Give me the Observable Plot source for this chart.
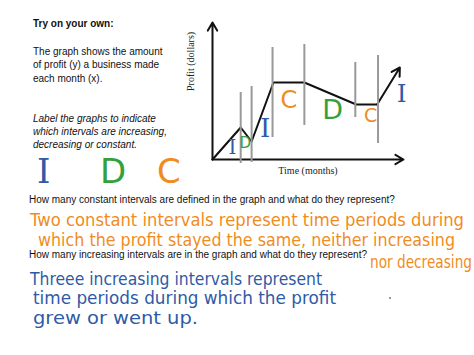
<!DOCTYPE html>
<html>
<head>
<meta charset="utf-8">
<script src="https://cdn.jsdelivr.net/npm/d3@7"></script>
<script src="https://cdn.jsdelivr.net/npm/@observablehq/plot@0.6"></script>
<style>
  html, body { margin: 0; padding: 0; background: #fff; }
  #page { position: relative; width: 474px; height: 355px; overflow: hidden; background: #fff; }
  #chart { position: absolute; left: 0; top: 0; }
  .t { position: absolute; white-space: nowrap; line-height: 1; font-family: "Liberation Sans", Arial, sans-serif; color: #111; }
  .hw { position: absolute; white-space: nowrap; line-height: 1; font-family: "DejaVu Sans", sans-serif; transform-origin: 0 0; }
</style>
</head>
<body>
<div id="page">
  <div id="chart"></div>
</div>
<script>
// ---- data ----
const months = [0, 3.1, 4.3, 6.7, 10.1, 15.8, 18.1, 20.6];
const profit = [0, 32, 18, 77, 77, 55, 55, 92];
const dividerMonths = [3.1, 4.3, 6.6, 10.1, 15.7, 18.2];
const dividerTop = [67, 73, 112, 115, 97, 104];
const dividerBottom = [-4, -3, 22, 34, 42, 16];
const labelMonths = [2.2, 3.6, 5.8, 8.4, 13.2, 17.4, 20.8];
const labelProfit = [12, 16, 31, 59, 49, 44, 66];
const labelKinds = ["I", "D", "I", "C", "D", "C", "I"];
const labelSizes = [20, 15, 26, 24, 27, 19, 25];
const kindColors = {I: "#2f5aa6", D: "#35a03a", C: "#f08c1e"};

const prose = [
  {text: "Try on your own:", x: 33, base: 27, style: "font-weight:bold"},
  {text: "The graph shows the amount", x: 33, base: 55},
  {text: "of profit (y) a business made", x: 33, base: 68},
  {text: "each month (x).", x: 33, base: 82},
  {text: "Label the graphs to indicate", x: 33, base: 122, style: "font-style:italic"},
  {text: "which intervals are increasing,", x: 33, base: 135, style: "font-style:italic"},
  {text: "decreasing or constant.", x: 33, base: 148, style: "font-style:italic"},
  {text: "How many constant intervals are defined in the graph and what do they represent?", x: 29, base: 203},
  {text: "How many increasing intervals are in the graph and what do they represent?", x: 29, base: 258}
];
const bigLetters = ["I", "D", "C"];
const bigLetterX = [37, 100, 157];
const handLines = [
  {text: "Two constant intervals represent time periods during", x: 30, base: 226, w: 434, size: 18, kind: "C"},
  {text: "which the profit stayed the same, neither increasing", x: 38, base: 246, w: 417, size: 18, kind: "C"},
  {text: "nor decreasing", x: 370, base: 268, w: 102, size: 18, kind: "C"},
  {text: "Threee increasing intervals represent", x: 30, base: 285, w: 292, size: 17, kind: "I"},
  {text: "time periods during which the profit", x: 33, base: 304, w: 303, size: 17, kind: "I"},
  {text: "grew or went up.", x: 33, base: 324, w: 165, size: 17, kind: "I"}
];

// ---- chart ----
const pts = months.map((m, i) => ({month: m, profit: profit[i]}));
const n = pts.length;
const lastSeg = [{x1: pts[n - 2].month, y1: pts[n - 2].profit, x2: pts[n - 1].month, y2: pts[n - 1].profit}];
const xMax = 21, yMax = 137;
const axesArrows = [{x1: 0, y1: 0, x2: 0, y2: yMax}, {x1: 0, y1: 0, x2: xMax, y2: 0}];
const dividers = dividerMonths.map((m, i) => ({x: m, y1: dividerBottom[i], y2: dividerTop[i]}));
const labels = labelMonths.map((m, i) => ({x: m, y: labelProfit[i], k: labelKinds[i], s: labelSizes[i]}));

const chart = Plot.plot({
  width: 474,
  height: 355,
  marginLeft: 212,
  marginRight: 71,
  marginTop: 22,
  marginBottom: 196,
  x: {domain: [0, xMax], axis: null},
  y: {domain: [0, yMax], axis: null},
  style: {background: "transparent", overflow: "visible"},
  marks: [
    Plot.arrow(axesArrows, {x1: "x1", y1: "y1", x2: "x2", y2: "y2", stroke: "#111", strokeWidth: 2, headLength: 7}),
    Plot.line(pts.slice(0, n - 1), {x: "month", y: "profit", stroke: "#111", strokeWidth: 2}),
    Plot.arrow(lastSeg, {x1: "x1", y1: "y1", x2: "x2", y2: "y2", stroke: "#111", strokeWidth: 2, headLength: 7}),
    Plot.ruleX(dividers, {x: "x", y1: "y1", y2: "y2", stroke: "#999", strokeWidth: 2}),
    Plot.text(labels.filter(d => d.k !== "I"), {x: "x", y: "y", text: "k", fill: d => kindColors[d.k], fontSize: "s", fontFamily: "DejaVu Sans", lineAnchor: "middle"}),
    Plot.text(labels.filter(d => d.k === "I"), {x: "x", y: "y", text: "k", fill: d => kindColors[d.k], fontSize: "s", fontFamily: "DejaVu Serif", lineAnchor: "middle"}),
    Plot.text(["Time (months)"], {frameAnchor: "bottom", dy: 14, fontFamily: "Liberation Serif", fontSize: 10, fill: "#222"}),
    Plot.text(["Profit (dollars)"], {frameAnchor: "left", dx: -22, rotate: -90, fontFamily: "Liberation Serif", fontSize: 10, fill: "#222"})
  ]
});
document.getElementById("chart").appendChild(chart);

// ---- text ----
const page = document.getElementById("page");
prose.forEach(p => {
  const d = document.createElement("div");
  d.className = "t";
  d.textContent = p.text;
  d.style.cssText += `left:${p.x}px;top:${p.base - 10 * 0.846}px;font-size:10px;${p.style || ""}`;
  page.appendChild(d);
});
bigLetters.forEach((L, i) => {
  const d = document.createElement("div");
  d.className = "hw";
  d.textContent = L;
  d.style.cssText += `left:${bigLetterX[i]}px;top:${183 - 34 * 0.846}px;font-size:34px;color:${kindColors[L]};`;
  if (L === "I") d.style.fontFamily = "DejaVu Serif";
  page.appendChild(d);
});
handLines.forEach(h => {
  const d = document.createElement("div");
  d.className = "hw";
  d.textContent = h.text;
  d.style.cssText += `left:${h.x}px;top:${h.base - h.size * 0.846}px;font-size:${h.size}px;color:${kindColors[h.kind]};`;
  page.appendChild(d);
  const w = d.getBoundingClientRect().width;
  d.style.transform = `scaleX(${h.w / w})`;
});
const dot = document.createElement("div");
dot.style.cssText = "position:absolute;left:389px;top:297px;width:2px;height:2px;border-radius:1px;background:#777;";
page.appendChild(dot);
</script>
</body>
</html>
